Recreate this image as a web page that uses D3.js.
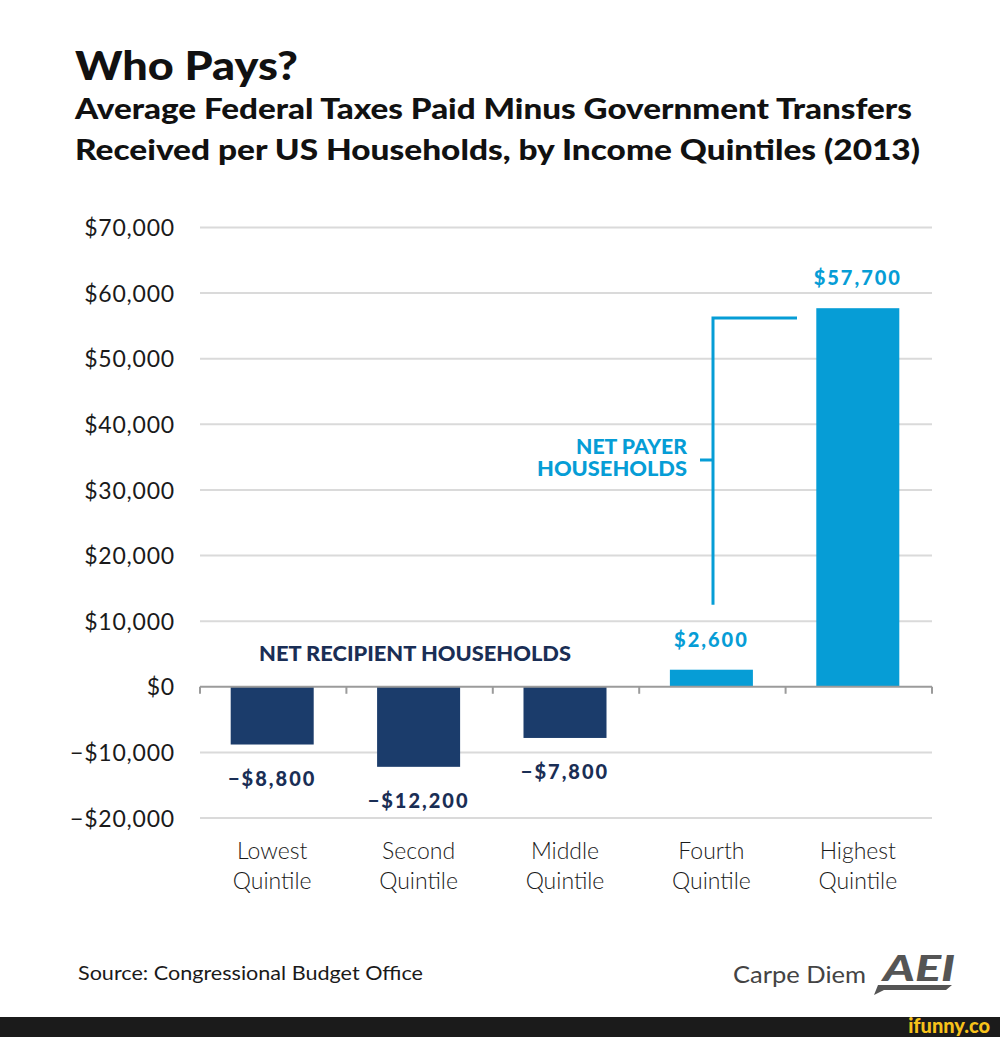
<!DOCTYPE html>
<html><head><meta charset="utf-8">
<script src="https://cdn.jsdelivr.net/npm/d3@7"></script>
<style>body{margin:0;background:#fff} svg{display:block}</style>
</head><body><svg id="c" width="1000" height="1037"></svg>
<script>
const categories = ["Lowest Quintile","Second Quintile","Middle Quintile","Fourth Quintile","Highest Quintile"];
const catLine1 = ["Lowest","Second","Middle","Fourth","Highest"];
const catLine2 = ["Quintile","Quintile","Quintile","Quintile","Quintile"];
const values = [-8800,-12200,-7800,2600,57700];
const valueLabels = ["−$8,800","−$12,200","−$7,800","$2,600","$57,700"];
const yTicks = [-20000,-10000,0,10000,20000,30000,40000,50000,60000,70000];
const yTickLabels = ["−$20,000","−$10,000","$0","$10,000","$20,000","$30,000","$40,000","$50,000","$60,000","$70,000"];

const NAVY = "#1b3c6b", BLUE = "#069dd6", NAVYTXT = "#1a2e55";
const svg = d3.select("#c");
const x = d3.scaleBand().domain(categories).range([199, 931]).paddingInner(0.433).paddingOuter(0.2165);
const xb = d3.scaleBand().domain(categories).range([200, 932]);
const y = d3.scaleLinear().domain([-20000, 70000]).range([818, 227.5]);

// Titles
svg.append("text").attr("x",75).attr("y",80).text("Who Pays?")
  .attr("font-family","Lato").attr("font-weight",900).attr("font-size",40)
  .attr("textLength",223).attr("lengthAdjust","spacingAndGlyphs").attr("fill","#111");
svg.append("text").attr("x",75).attr("y",119).text("Average Federal Taxes Paid Minus Government Transfers")
  .attr("font-family","Lato").attr("font-weight",900).attr("font-size",29)
  .attr("textLength",837).attr("lengthAdjust","spacingAndGlyphs").attr("fill","#111");
svg.append("text").attr("x",75).attr("y",160).text("Received per US Households, by Income Quintiles (2013)")
  .attr("font-family","Lato").attr("font-weight",900).attr("font-size",29)
  .attr("textLength",845).attr("lengthAdjust","spacingAndGlyphs").attr("fill","#111");

// Gridlines
svg.append("g").selectAll("line").data(yTicks.filter(d=>d!==0)).join("line")
  .attr("x1",200).attr("x2",932).attr("y1",d=>y(d)).attr("y2",d=>y(d))
  .attr("stroke","#dadada").attr("stroke-width",2);

// Y axis labels
const yAxis = d3.axisLeft(y).tickValues(yTicks).tickSize(0).tickPadding(0)
  .tickFormat((d,i)=>yTickLabels[i]);
const ga = svg.append("g").attr("transform","translate(175,0)").call(yAxis);
ga.select(".domain").remove();
ga.selectAll("text").attr("font-family","Lato").attr("font-weight",400).attr("font-size",23)
  .attr("letter-spacing",0.8).attr("fill","#1a1a1a").attr("dy","0.35em");

// Bars
svg.append("g").selectAll("rect").data(values).join("rect")
  .attr("x",(d,i)=>x(categories[i])).attr("width",x.bandwidth())
  .attr("y",d=>y(Math.max(0,d))).attr("height",d=>Math.abs(y(d)-y(0)))
  .attr("fill",d=>d<0?NAVY:BLUE);

// Zero axis with ticks
svg.append("line").attr("x1",200).attr("x2",932).attr("y1",y(0)).attr("y2",y(0))
  .attr("stroke","#9b9b9b").attr("stroke-width",2);
const bounds = categories.map(c=>xb(c)).concat([xb.range()[1]]);
svg.append("g").selectAll("line").data(bounds).join("line")
  .attr("x1",d=>d).attr("x2",d=>d).attr("y1",y(0)).attr("y2",y(0)+7)
  .attr("stroke","#9b9b9b").attr("stroke-width",2);

// Value labels
svg.append("g").selectAll("text").data(values).join("text")
  .attr("x",(d,i)=>x(categories[i])+x.bandwidth()/2)
  .attr("y",d=>d<0? y(d)+41 : y(d)-23)
  .attr("text-anchor","middle").text((d,i)=>valueLabels[i])
  .attr("font-family","Lato").attr("font-weight",900).attr("font-size",20)
  .attr("letter-spacing",2).attr("fill",d=>d<0?NAVYTXT:BLUE);

// Category labels
const gc = svg.append("g").selectAll("text").data(categories).join("text")
  .attr("x",c=>xb(c)+xb.bandwidth()/2-1).attr("text-anchor","middle")
  .attr("font-family","Lato").attr("font-weight",300).attr("font-size",23).attr("fill","#1a1a1a");
gc.append("tspan").attr("x",c=>xb(c)+xb.bandwidth()/2-1).attr("y",859).text((c,i)=>catLine1[i]);
gc.append("tspan").attr("x",c=>xb(c)+xb.bandwidth()/2-1).attr("y",889).text((c,i)=>catLine2[i]);

// Annotations
svg.append("text").attr("x",415).attr("y",661).attr("text-anchor","middle").text("NET RECIPIENT HOUSEHOLDS")
  .attr("font-family","Lato").attr("font-weight",900).attr("font-size",20)
  .attr("textLength",312).attr("lengthAdjust","spacingAndGlyphs").attr("fill",NAVYTXT);
svg.append("text").attr("x",687).attr("y",454).attr("text-anchor","end").text("NET PAYER")
  .attr("font-family","Lato").attr("font-weight",900).attr("font-size",20)
  .attr("textLength",111).attr("lengthAdjust","spacingAndGlyphs").attr("fill",BLUE);
svg.append("text").attr("x",687).attr("y",476).attr("text-anchor","end").text("HOUSEHOLDS")
  .attr("font-family","Lato").attr("font-weight",900).attr("font-size",20)
  .attr("textLength",150).attr("lengthAdjust","spacingAndGlyphs").attr("fill",BLUE);

// Bracket
const bx = 713;
svg.append("path").attr("d",`M${bx},${y(12500)} V${y(56200)} H797 M${bx},460 H700`)
  .attr("fill","none").attr("stroke",BLUE).attr("stroke-width",3);

// Source & logo
svg.append("text").attr("x",78).attr("y",980).text("Source: Congressional Budget Office")
  .attr("font-family","Lato").attr("font-weight",400).attr("font-size",20)
  .attr("textLength",345).attr("lengthAdjust","spacingAndGlyphs").attr("fill","#1a1a1a");
svg.append("text").attr("x",733).attr("y",983).text("Carpe Diem")
  .attr("font-family","Lato").attr("font-weight",400).attr("font-size",23)
  .attr("textLength",133).attr("lengthAdjust","spacingAndGlyphs").attr("fill","#444");
const logo = svg.append("g").attr("fill","#555");
logo.append("text").attr("x",883).attr("y",981).text("AEI")
  .attr("font-family","Lato").attr("font-weight",900).attr("font-style","italic").attr("font-size",36)
  .attr("textLength",72).attr("lengthAdjust","spacingAndGlyphs");
logo.append("path").attr("d","M878,985 L952,985 L946,990 L884,990 L874,995 Z");

// Footer bar
svg.append("rect").attr("x",0).attr("y",1017).attr("width",1000).attr("height",20).attr("fill","#1b1b1b");
svg.append("text").attr("x",990).attr("y",1033).attr("text-anchor","end").text("ifunny.co")
  .attr("font-family","Lato").attr("font-weight",900).attr("font-size",20).attr("fill","#f7c21a");
</script></body></html>
